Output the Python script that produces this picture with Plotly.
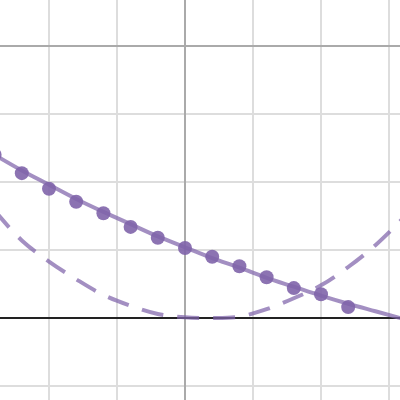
import plotly.graph_objects as go

# sampled points (dots)
x_pts = [-2.8, -2.4, -2.0, -1.6, -1.2, -0.8, -0.4, 0.0, 0.4, 0.8, 1.2, 1.6, 2.0, 2.4]
y_pts = [2.40, 2.13, 1.90, 1.71, 1.54, 1.34, 1.18, 1.03, 0.90, 0.76, 0.60, 0.44, 0.35, 0.16]

# smooth curve through the dots
x_curve = [-2.8, -2.4, -2.0, -1.6, -1.2, -0.8, -0.4, 0.0, 0.4, 0.8, 1.2, 1.6, 2.0, 2.4, 2.8, 3.2]
y_curve = [2.40, 2.17, 1.96, 1.75, 1.56, 1.38, 1.20, 1.04, 0.88, 0.74, 0.59, 0.46, 0.33, 0.21, 0.10, -0.01]

# dashed curve
y_dash = [1.58, 1.14, 0.83, 0.57, 0.34, 0.18, 0.06, 0.01, 0.0, 0.02, 0.13, 0.29, 0.48, 0.75, 1.07, 1.46]

purple = 'rgb(128,100,170)'
light = 'rgba(128,100,170,0.72)'

fig = go.Figure()
fig.add_trace(go.Scatter(x=x_curve, y=y_dash, mode='lines', line_shape='spline',
                         line=dict(color=light, width=4, dash='22px,14px')))
fig.add_trace(go.Scatter(x=x_curve, y=y_curve, mode='lines', line_shape='spline',
                         line=dict(color=light, width=4)))
fig.add_trace(go.Scatter(x=x_pts, y=y_pts, mode='markers',
                         marker=dict(color=purple, size=14, opacity=0.9)))

# highlighted y=4 line
fig.add_shape(type='line', xref='paper', x0=0, x1=1, y0=4, y1=4,
              line=dict(color='#aaaaaa', width=2), layer='above')

fig.update_layout(
    width=400, height=400,
    margin=dict(l=0, r=0, t=0, b=0),
    plot_bgcolor='white', paper_bgcolor='white',
    showlegend=False,
)
fig.update_xaxes(range=[-185 / 68, 215 / 68], dtick=1, tick0=0,
                 showticklabels=False, gridcolor='#dddddd', gridwidth=2,
                 zeroline=True, zerolinecolor='#aaaaaa', zerolinewidth=2)
fig.update_yaxes(range=[-82 / 68, 318 / 68], dtick=1, tick0=0,
                 showticklabels=False, gridcolor='#dddddd', gridwidth=2,
                 zeroline=True, zerolinecolor='#222222', zerolinewidth=2)

fig.write_html("out.html", config={'displayModeBar': False},
               post_script="document.body.style.margin='0';")
